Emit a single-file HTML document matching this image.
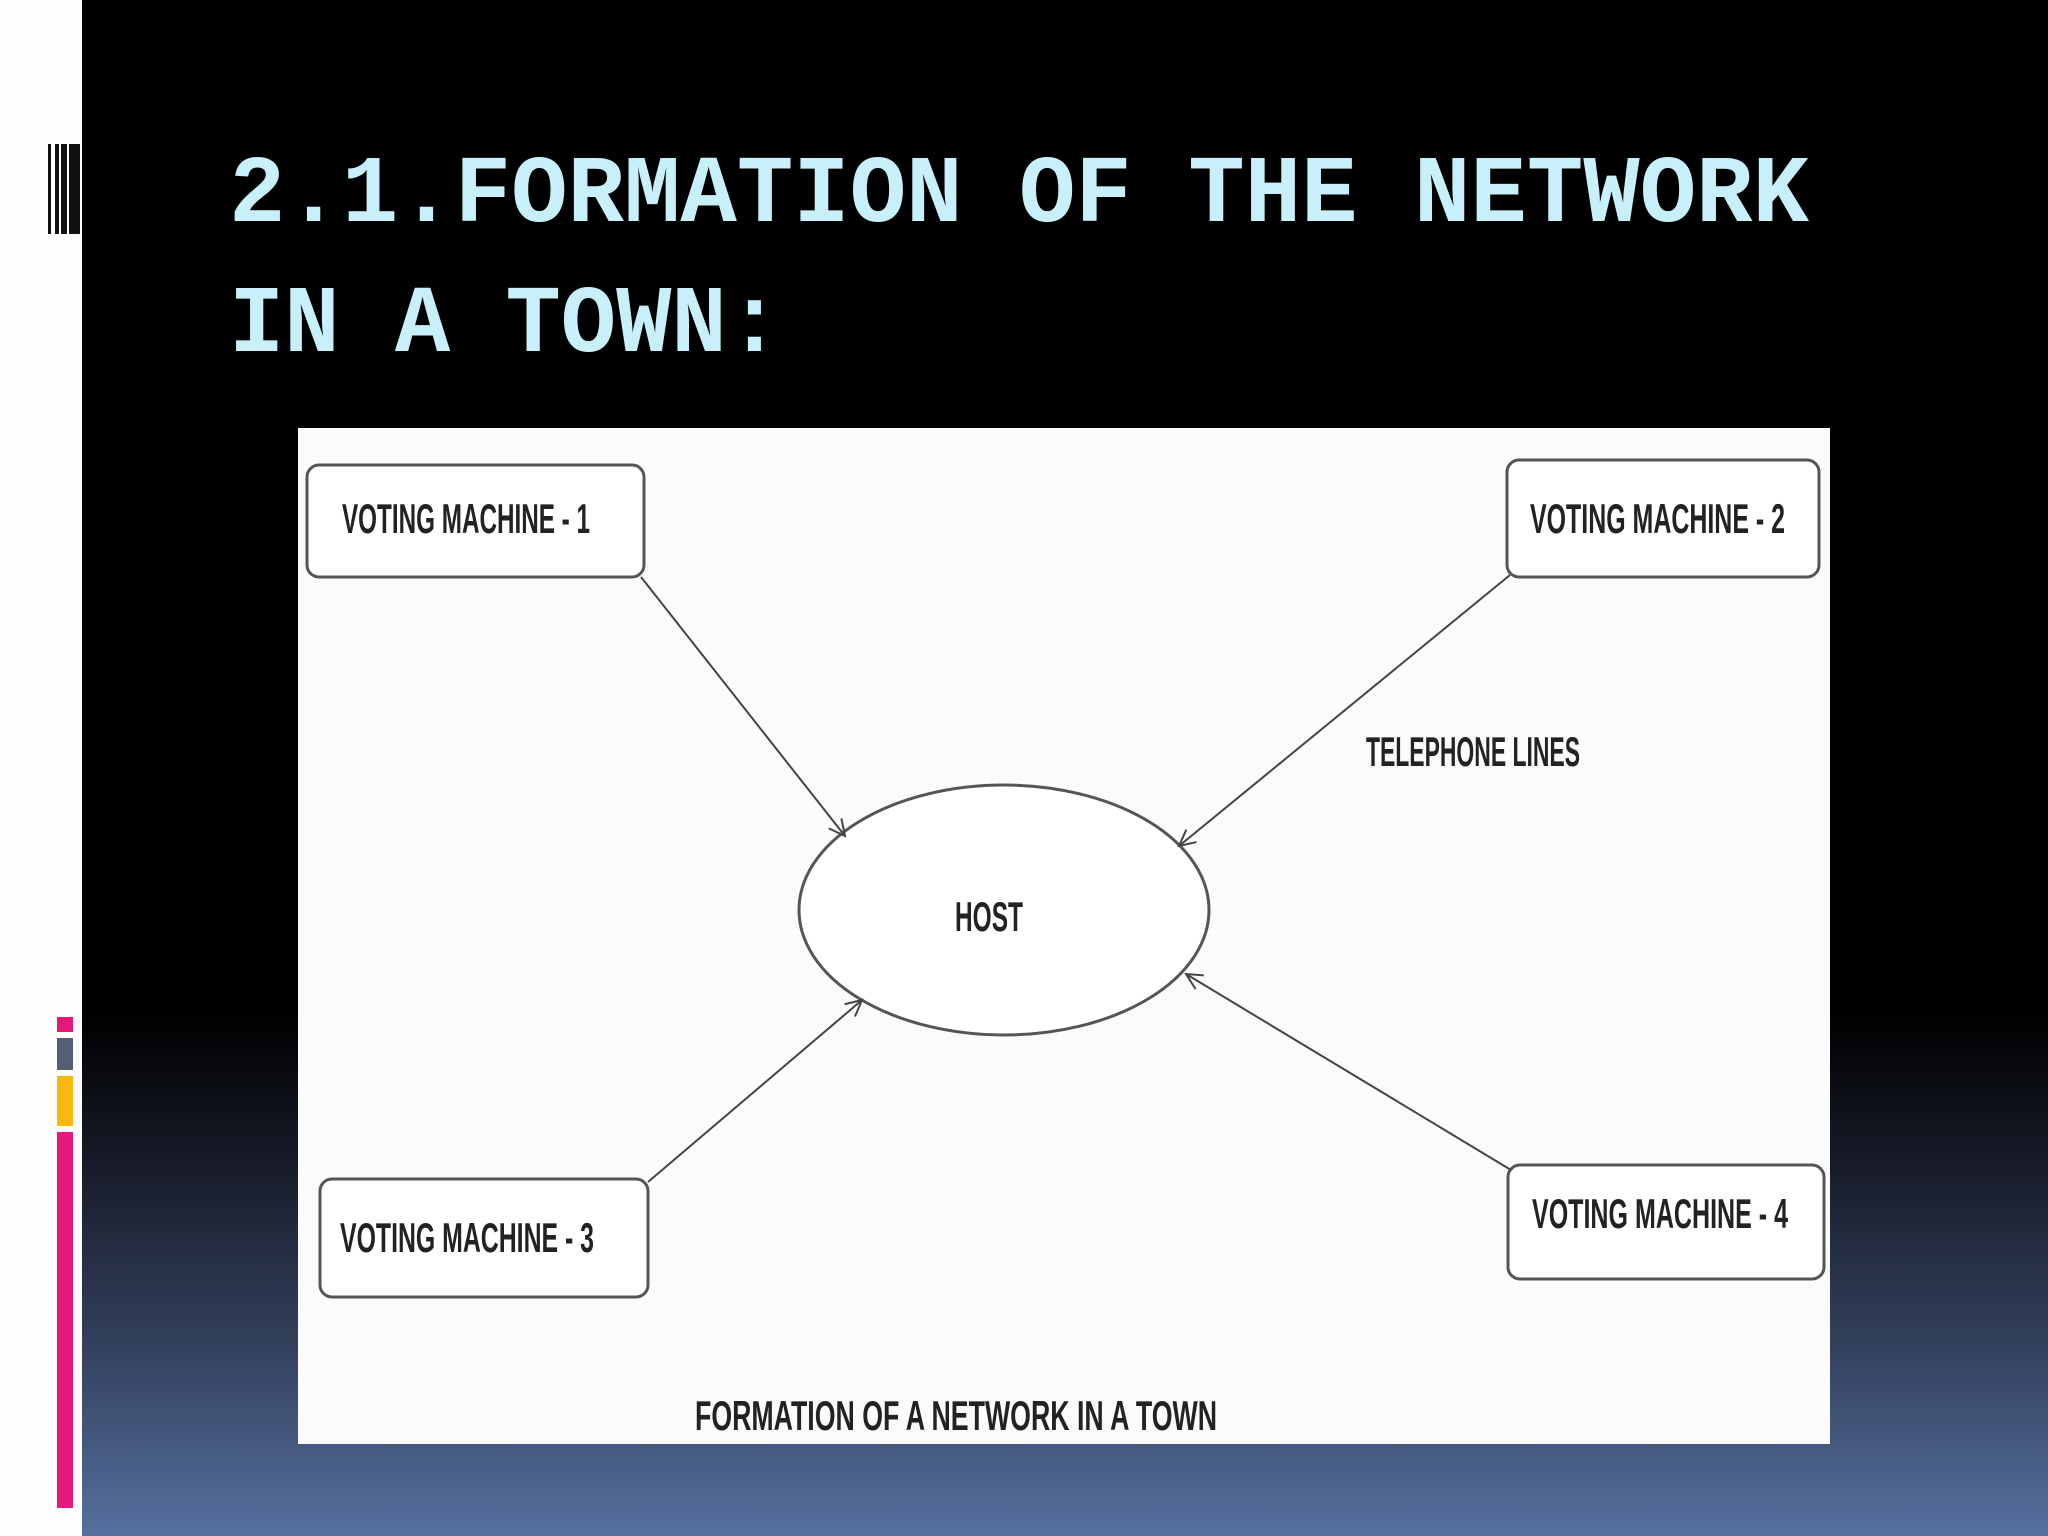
<!DOCTYPE html>
<html><head><meta charset="utf-8"><style>
html,body{margin:0;padding:0;width:2048px;height:1536px;overflow:hidden}
body{position:relative;background:#fff}
</style></head><body>
<svg width="2048" height="1536" viewBox="0 0 2048 1536" xmlns="http://www.w3.org/2000/svg" style="position:absolute;left:0;top:0">
<defs>
<linearGradient id="bg" x1="0" y1="0" x2="0" y2="1">
<stop offset="0" stop-color="#000"/>
<stop offset="0.66" stop-color="#000"/>
<stop offset="0.76" stop-color="#181c2a"/>
<stop offset="0.88" stop-color="#34425f"/>
<stop offset="1" stop-color="#56709f"/>
</linearGradient>
<marker id="ah" viewBox="0 0 20 20" refX="18" refY="10" markerWidth="20" markerHeight="20" markerUnits="userSpaceOnUse" orient="auto">
<path d="M2,2 L18,10 L2,18" fill="none" stroke="#444" stroke-width="2"/>
</marker>
</defs>
<rect x="0" y="0" width="2048" height="1536" fill="#fdfdfd"/>
<rect x="82" y="0" width="1966" height="1536" fill="url(#bg)"/>
<g fill="#111">
<rect x="48" y="144" width="3" height="90"/>
<rect x="55" y="144" width="4" height="90"/>
<rect x="61" y="144" width="6" height="90"/>
<rect x="69" y="144" width="11" height="90"/>
</g>
<rect x="57" y="1017" width="16" height="15" fill="#e6197a"/>
<rect x="57" y="1038" width="16" height="32" fill="#555e72"/>
<rect x="57" y="1076" width="16" height="50" fill="#f8b80c"/>
<rect x="57" y="1132" width="16" height="376" fill="#e6197a"/>
<g font-family="Liberation Mono, monospace" font-weight="bold" font-size="96" fill="#c8f0fa">
<text x="229" y="221" textLength="1580" lengthAdjust="spacingAndGlyphs">2.1.FORMATION OF THE NETWORK</text>
<text x="229" y="351" textLength="553" lengthAdjust="spacingAndGlyphs">IN A TOWN:</text>
</g>
<rect x="298" y="428" width="1532" height="1016" fill="#fbfbfd"/>
<g fill="#fff" stroke="#555" stroke-width="3">
<rect x="307" y="465" width="337" height="112" rx="12"/>
<rect x="1507" y="460" width="312" height="117" rx="12"/>
<rect x="320" y="1179" width="328" height="118" rx="12"/>
<rect x="1508" y="1165" width="316" height="114" rx="12"/>
<ellipse cx="1004" cy="910" rx="205" ry="125"/>
</g>
<g stroke="#444" stroke-width="2" marker-end="url(#ah)">
<line x1="641" y1="577" x2="845" y2="836"/>
<line x1="1510" y1="575" x2="1179" y2="846"/>
<line x1="648" y1="1182" x2="862" y2="1000"/>
<line x1="1511" y1="1170" x2="1186" y2="974"/>
</g>
<g font-family="Liberation Sans, sans-serif" font-weight="bold" font-size="42" fill="#222">
<text x="342" y="533" textLength="248" lengthAdjust="spacingAndGlyphs">VOTING MACHINE - 1</text>
<text x="1530" y="533" textLength="255" lengthAdjust="spacingAndGlyphs">VOTING MACHINE - 2</text>
<text x="340" y="1252" textLength="254" lengthAdjust="spacingAndGlyphs">VOTING MACHINE - 3</text>
<text x="1532" y="1228" textLength="256" lengthAdjust="spacingAndGlyphs">VOTING MACHINE - 4</text>
<text x="955" y="931" textLength="68" lengthAdjust="spacingAndGlyphs">HOST</text>
<text x="1366" y="766" textLength="214" lengthAdjust="spacingAndGlyphs">TELEPHONE LINES</text>
<text x="695" y="1430" textLength="522" lengthAdjust="spacingAndGlyphs">FORMATION OF A NETWORK IN A TOWN</text>
</g>
</svg>
</body></html>
